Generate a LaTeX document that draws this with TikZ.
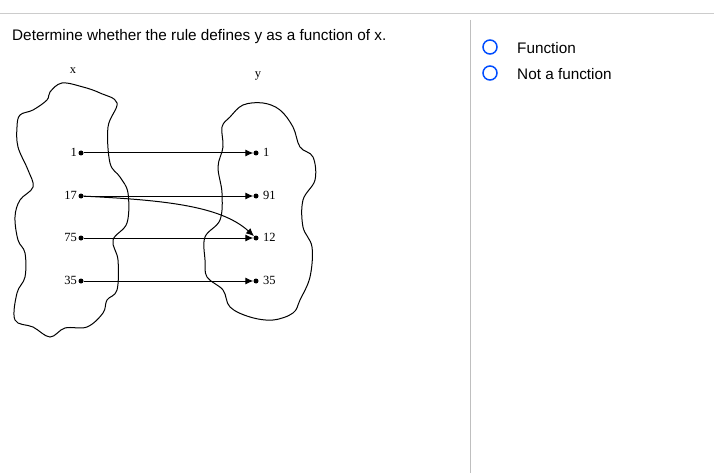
\documentclass[tikz,border=0pt]{standalone}
\usepackage{fontspec}
\usetikzlibrary{arrows.meta}
\setmainfont{Liberation Sans}
\newfontfamily\serifl{Liberation Serif}
\begin{document}
\begin{tikzpicture}[x=1pt,y=-1pt,
  dot/.style={circle,fill=black,inner sep=0pt,minimum size=5pt},
  lab/.style={font=\serifl\fontsize{12.5}{14}\selectfont,inner sep=1pt},
  arr/.style={-{Latex[length=8pt,width=7pt]},line width=1pt},
  blob/.style={line width=1pt,smooth cycle,tension=0.6},
  txt/.style={anchor=west,font=\fontsize{15.3}{17}\selectfont,inner sep=0pt},
  radio/.style={circle,draw=blue!70!cyan,line width=1.5pt,minimum size=14pt,inner sep=0pt}]
\useasboundingbox (0,0) rectangle (714,473);
\draw[gray!40] (0,13) -- (714,13);
\draw[gray!50] (470,20) -- (470,473);
\node[txt] (q) at (12,37) {Determine whether the rule defines y as a function of x.};
\node[radio] (r1) at (490,47) {};
\node[radio] (r2) at (490,73) {};
\node[txt] (t1) at (517,48) {Function};
\node[txt] (t2) at (517,74) {Not a function};
\draw[blob] plot coordinates {(62,83) (50,92) (47,100) (33,110) (20,115) (17,127) (18,147) (28,170) (33,187) (20,200) (15,217) (18,240) (25,253) (25,277) (17,293) (15,320) (33,327) (50,337) (65,328) (87,327) (103,313) (107,300) (117,290) (118,260) (113,240) (127,223) (128,193) (120,177) (110,163) (108,127) (117,103) (100,93) (83,87)};
\draw[blob] plot coordinates {(230,117) (243,105) (263,103) (280,110) (293,127) (300,147) (313,157) (315,180) (303,200) (303,227) (312,247) (310,277) (300,300) (293,313) (273,320) (250,317) (230,307) (223,290) (207,277) (205,260) (205,237) (220,220) (222,193) (218,167) (223,147) (222,127)};
\node[lab] (X) at (73,71) {x};
\node[lab] (Y) at (258,76) {y};
\foreach \n/\yy/\l/\r in {a/153/1/1, b/196/17/91, c/238/75/12, d/281/35/35}{
  \node[dot] (L\n) at (81,\yy) {};
  \node[dot] (R\n) at (256,\yy) {};
  \node[lab,anchor=east] (LL\n) at (78,\yy-1) {\l};
  \node[lab,anchor=west] (RL\n) at (262,\yy-1) {\r};
}
\draw[arr] (La) -- (Ra);
\draw[arr] (Lb) -- (Rb);
\draw[arr] (Lc) -- (Rc);
\draw[arr] (Ld) -- (Rd);
\draw[arr] (Lb) .. controls (160,200) and (220,205) .. (Rc);
\end{tikzpicture}
\end{document}
